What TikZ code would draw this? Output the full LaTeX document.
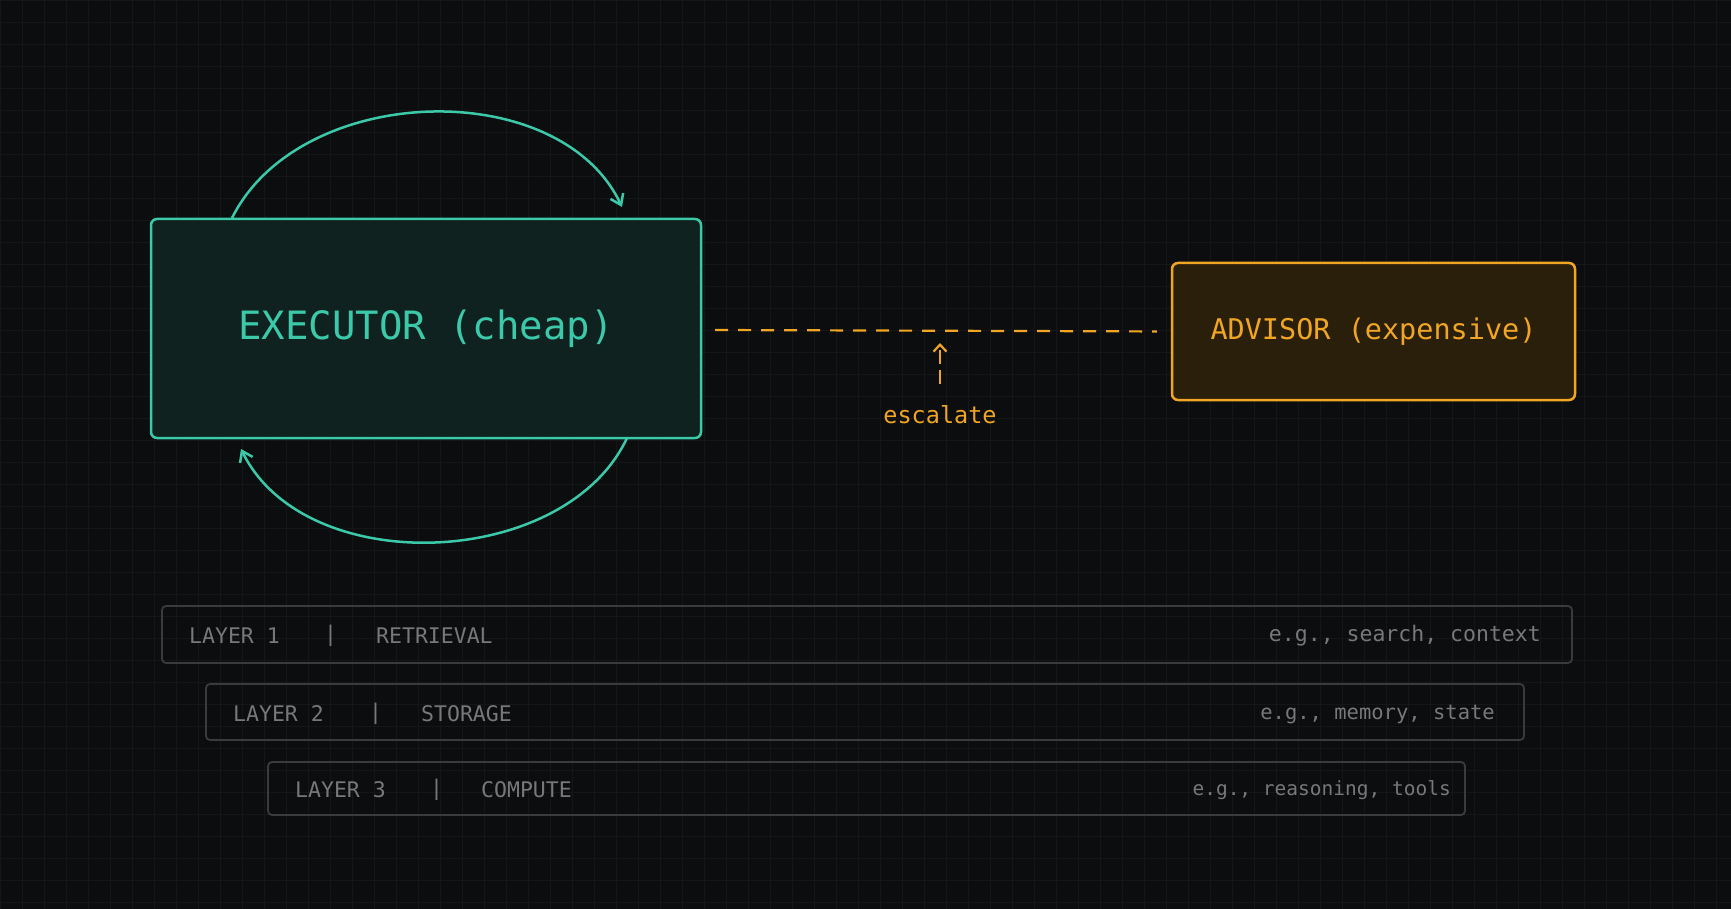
\documentclass[tikz,border=0pt]{standalone}
\usepackage{fontspec}
\setmonofont{DejaVu Sans Mono}
\usetikzlibrary{arrows.meta}
\definecolor{bg}{HTML}{0C0D0E}
\definecolor{gridc}{HTML}{151618}
\definecolor{teal}{HTML}{3CC9A9}
\definecolor{tealfill}{HTML}{0F221F}
\definecolor{orng}{HTML}{F0A524}
\definecolor{orfill}{HTML}{2A1F0B}
\definecolor{lborder}{HTML}{3A3B3D}
\definecolor{ltext}{HTML}{76787A}
\begin{document}
\begin{tikzpicture}[x=1pt,y=-1pt,
  exec/.style={draw=teal,fill=tealfill,line width=2.5pt,rounded corners=6pt,minimum width=550pt,minimum height=219pt,text=teal,font=\ttfamily\fontsize{39}{39}\selectfont},
  adv/.style={draw=orng,fill=orfill,line width=2.5pt,rounded corners=6pt,minimum width=403pt,minimum height=137pt,text=orng,font=\ttfamily\fontsize{28.5}{28.5}\selectfont},
  layerbox/.style={draw=lborder,line width=1.8pt,rounded corners=4pt},
  ltxt/.style={text=ltext,font=\ttfamily\fontsize{21.5}{21.5}\selectfont,anchor=west,inner sep=0},
  rtxt/.style={text=ltext,anchor=east,inner sep=0},
  loop/.style={draw=teal,line width=2.5pt,-{Straight Barb[length=10pt,width=14pt,line width=2.5pt]}}]
\fill[bg] (0,0) rectangle (1731,909);
\useasboundingbox (0,0) rectangle (1731,909);
\draw[gridc,line width=0.6pt] (0,0) grid[step=22pt] (1731,909);
% layers
\node[layerbox,minimum width=1410pt,minimum height=57pt] (l1) at (867,634.5) {};
\node[layerbox,minimum width=1318pt,minimum height=56pt] (l2) at (865,712) {};
\node[layerbox,minimum width=1197pt,minimum height=53pt] (l3) at (866.5,788.5) {};
\node[ltxt] (l1a) at (189,636) {LAYER 1};
\node[ltxt] (l1b) at (324,636) {|};
\node[ltxt] (l1c) at (376,636) {RETRIEVAL};
\node[rtxt,font=\ttfamily\fontsize{21.5}{21.5}\selectfont] (l1d) at (1541,636) {e.g., search, context};
\node[ltxt] (l2a) at (233,714) {LAYER 2};
\node[ltxt] (l2b) at (369,714) {|};
\node[ltxt] (l2c) at (421,714) {STORAGE};
\node[rtxt,font=\ttfamily\fontsize{20.5}{20.5}\selectfont] (l2d) at (1495,714) {e.g., memory, state};
\node[ltxt] (l3a) at (295,790) {LAYER 3};
\node[ltxt] (l3b) at (430,790) {|};
\node[ltxt] (l3c) at (481,790) {COMPUTE};
\node[rtxt,font=\ttfamily\fontsize{19.5}{19.5}\selectfont] (l3d) at (1451,790) {e.g., reasoning, tools};
% main boxes
\node[exec] (ex) at (426,328.5) {EXECUTOR (cheap)};
\node[adv] (ad) at (1373.5,331.5) {ADVISOR (expensive)};
% loops
\coordinate (t1) at (232,218);
\coordinate (t2) at (622,207);
\coordinate (b1) at (627,438);
\coordinate (b2) at (241,449);
\draw[loop] (t1) .. controls (300,82) and (560,75) .. (t2);
\draw[loop] (b1) .. controls (565,570) and (305,580) .. (b2);
% escalate
\coordinate (d1) at (715,330);
\draw[orng,line width=2.2pt,dash pattern=on 13pt off 10pt,shorten >=14pt] (d1) -- (ad.west);
\node[text=orng,font=\ttfamily\fontsize{23.5}{23.5}\selectfont] (esc) at (940,415) {escalate};
\coordinate (e1) at (940,384);
\coordinate (e2) at (940,343);
\draw[orng,line width=2.2pt,dash pattern=on 14pt off 6pt,-{Straight Barb[length=7pt,width=13pt,line width=2.2pt]}] (e1) -- (e2);
\end{tikzpicture}
\end{document}
